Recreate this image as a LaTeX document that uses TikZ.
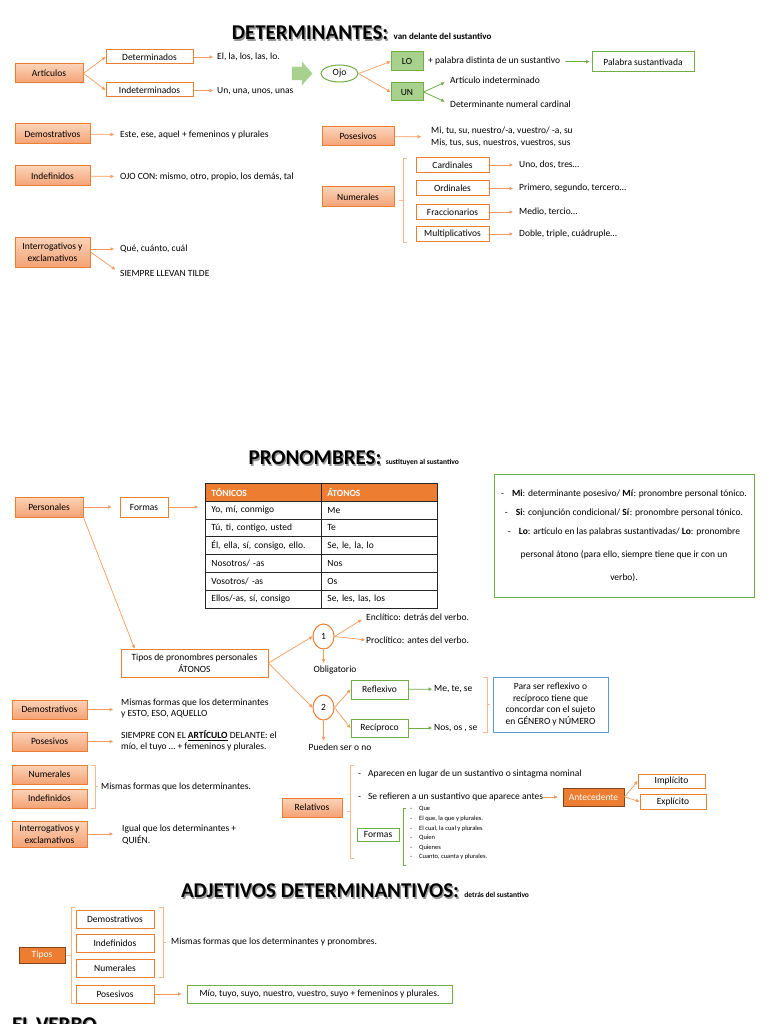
\documentclass[tikz,border=0pt]{standalone}
\usepackage{fontspec}
\setmainfont{Carlito}
\usetikzlibrary{arrows.meta,positioning,shapes.geometric,matrix}
\definecolor{naranja}{HTML}{ED7D31}
\definecolor{salmon}{HTML}{FAD3B8}
\definecolor{salmonosc}{HTML}{F4A275}
\definecolor{verde}{HTML}{70AD47}
\definecolor{verdeclaro}{HTML}{A9D18E}
\definecolor{azul}{HTML}{5B9BD5}
\definecolor{flecha}{HTML}{F59A5C}
\tikzset{>={Triangle[length=3.5pt,width=3.2pt]}}
\tikzset{
  every node/.style={font=\fontsize{9.5}{11.5}\selectfont},
  catbox/.style={draw=naranja, line width=1pt, top color=salmon, bottom color=salmonosc,
    minimum width=75, minimum height=20, inner sep=1pt, align=center},
  subbox/.style={draw=naranja, line width=1pt, fill=white, minimum width=87,
    minimum height=14, inner sep=1pt, align=center},
  grbox/.style={draw=verde, line width=1pt, fill=white, minimum height=19, inner sep=1pt, align=center},
  grfill/.style={grbox, fill=verdeclaro},
  darkbox/.style={draw=naranja!55!black, line width=0.8pt, fill=naranja, text=white, inner sep=1pt},
  txt/.style={anchor=west, inner sep=0pt, align=left},
  arr/.style={->, draw=flecha, line width=0.7pt},
  garr/.style={->, draw=verde, line width=0.8pt},
  brk/.style={draw=flecha!70!white, line width=0.6pt},
  titulo/.style={font=\fontsize{21}{24}\selectfont\bfseries, inner sep=0pt},
  sombra/.style={titulo, text=black!40},
  subtit/.style={font=\fontsize{9}{10}\selectfont\bfseries, inner sep=0pt, anchor=base west},
}

\begin{document}
\begin{tikzpicture}[x=1pt,y=-1pt]
        \useasboundingbox (0,0) rectangle (768,1024);
        \clip (0,0) rectangle (768,1024);
        \fill[white] (0,0) rectangle (768,1024);
        % DETERMINANTES
        \node[sombra] (detS) at (311.3,34.5) {DETERMINANTES:};
        \node[titulo] (detT) at (310,33) {DETERMINANTES:};
        \node[subtit] (detsub) at ([xshift=5pt]detT.base east) {van delante del sustantivo};
        \node[catbox, minimum width=68, minimum height=19] (art) at (49,73.5) {Artículos};
        \node[subbox] (detm) at (149.5,57) {Determinados};
        \node[subbox] (indet) at (149.5,90) {Indeterminados};
        \node[txt] (detmT) at (217,57) {El, la, los, las, lo.};
        \node[txt] (indetT) at (217,91) {Un, una, unos, unas};
        \draw[arr] (art.east) -- (detm.west);
        \draw[arr] (art.east) -- (indet.west);
        \draw[arr, shorten >=4pt] (detm) -- (detmT);
        \draw[arr, shorten >=4pt] (indet) -- (indetT);
        \draw[fill=verdeclaro, draw=verde!60!white] (292,67) -- (302,67) -- (302,62) -- (312,73.5)
          -- (302,85) -- (302,80) -- (292,80) -- cycle;
        \node[ellipse, draw=verde, line width=1pt, minimum width=37, minimum height=17, inner sep=0pt] (ojo) at (339.5,73.5) {Ojo};
        \node[grfill, minimum width=32] (lo) at (407,61.5) {LO};
        \node[grfill, minimum width=32, minimum height=18] (un) at (407,92) {UN};
        \draw[arr] (ojo.east) -- (lo.west);
        \draw[arr] (ojo.east) -- (un.west);
        \node[txt] (lopal) at (428,61) {+ palabra distinta de un sustantivo};
        \node[grbox, minimum width=102, minimum height=20] (sust) at (643,62) {Palabra sustantivada};
        \draw[garr, shorten <=5pt, shorten >=2pt] (lopal) -- (sust);
        \node[txt] (unart) at (450,80) {Artículo indeterminado};
        \node[txt] (uncard) at (450,104) {Determinante numeral cardinal};
        \draw[garr, shorten >=6pt] (un.east) -- (unart.west);
        \draw[garr, shorten >=6pt] (un.east) -- (uncard.west);

        \node[catbox] (dem) at (52.5,134) {Demostrativos};
        \node[txt] (demT) at (120,135) {Este, ese, aquel + femeninos y plurales};
        \draw[arr, shorten >=6pt] (dem) -- (demT);
        \node[catbox] (indef) at (52.5,176) {Indefinidos};
        \node[txt] (indefT) at (120,177) {OJO CON: mismo, otro, propio, los demás, tal};
        \draw[arr, shorten >=6pt] (indef) -- (indefT);
        \node[catbox, minimum height=30] (interr) at (52.5,252) {Interrogativos y\\exclamativos};
        \node[txt] (interrT) at (120,249) {Qué, cuánto, cuál};
        \node[txt] (tilde) at (120,273) {SIEMPRE LLEVAN TILDE};
        \draw[arr, shorten >=6pt] (interr.east |- interrT) -- (interrT);
        \draw[arr, shorten >=6pt] (interr.east) -- (tilde.west);

        \node[catbox, minimum width=72, minimum height=19] (pos) at (358,136.5) {Posesivos};
        \node[txt] (posT) at (431,137) {Mi, tu, su, nuestro/-a, vuestro/ -a, su\\Mis, tus, sus, nuestros, vuestros, sus};
        \draw[arr, shorten >=10pt] (pos) -- (posT);
        \node[catbox, minimum width=72] (num) at (358,197) {Numerales};
        \draw[brk] (407,158) -- (403,158) -- (403,242) -- (407,242) (403,200) -- (399,200);
        \foreach \i/\nom/\ej/\y in {1/Cardinales/{Uno, dos, tres…}/165, 2/Ordinales/{Primero, segundo, tercero…}/188.5,
            3/Fraccionarios/{Medio, tercio…}/212, 4/Multiplicativos/{Doble, triple, cuádruple…}/234}{
          \node[subbox, minimum width=73, minimum height=15] (num\i) at (452.5,\y) {\nom};
          \node[txt] (numT\i) at (519,\y) {\ej};
          \draw[arr, shorten >=6pt] (num\i) -- (numT\i);
        }

        % PRONOMBRES
        \node[sombra] (proS) at (316.3,459.5) {PRONOMBRES:};
        \node[titulo] (proT) at (315,458) {PRONOMBRES:};
        \node[subtit, font=\fontsize{7.5}{9}\selectfont\bfseries] (prosub) at ([xshift=4pt]proT.base east) {sustituyen al sustantivo};
        \node[catbox, minimum width=68] (pers) at (49,507) {Personales};
        \node[subbox, minimum width=48, minimum height=20] (formas) at (144,507) {Formas};
        \draw[arr, shorten >=8pt] (pers) -- (formas);
        \matrix (tabla) [matrix of nodes, anchor=north west, inner sep=0pt, outer sep=0pt,
          column sep=-0.8pt, row sep=-0.8pt,
          nodes={draw=black!85, line width=0.8pt, text width=104, inner xsep=6pt, inner ysep=0pt,
            minimum height=17.8, align=left, anchor=center},
          hdr/.style={fill=naranja, text=white, font=\fontsize{9.5}{11.5}\selectfont\bfseries}] at (205,483) {
          |[hdr]| TÓNICOS & |[hdr]| ÁTONOS \\
          Yo, mí, conmigo & Me \\
          Tú, ti, contigo, usted & Te \\
          Él, ella, sí, consigo, ello. & Se, le, la, lo \\
          Nosotros/ -as & Nos \\
          Vosotros/ -as & Os \\
          Ellos/-as, sí, consigo & Se, les, las, los \\
        };
        \draw[arr, shorten >=7pt] (formas) -- (tabla.west |- formas);
        \node[draw=verde, line width=1pt, minimum width=260, minimum height=123, align=center, inner sep=2pt] (nota) at (624,535.5)
          {-\hspace{8pt}\textbf{Mi}: determinante posesivo/ \textbf{Mí}: pronombre personal tónico.\\[7.5pt]
           -\hspace{8pt}\textbf{Si}: conjunción condicional/ \textbf{Sí}: pronombre personal tónico.\\[7.5pt]
           -\hspace{8pt}\textbf{Lo}: artículo en las palabras sustantivadas/ \textbf{Lo}: pronombre\\[11.5pt]
           personal átono (para ello, siempre tiene que ir con un\\[11.5pt]
           verbo).};

        \node[subbox, minimum width=147, minimum height=28] (tipos) at (194.5,663) {Tipos de pronombres personales\\ÁTONOS};
        \draw[arr] (pers.south east) -- ([xshift=14pt]tipos.north west);
        \node[ellipse, draw=naranja, line width=1pt, fill=white, minimum width=21, minimum height=25, inner sep=0pt] (uno) at (323.5,636.5) {1};
        \node[ellipse, draw=naranja, line width=1pt, fill=white, minimum width=21, minimum height=25, inner sep=0pt] (dos) at (323.5,707.5) {2};
        \draw[arr] (tipos.east) -- (uno.west);
        \draw[arr] (tipos.east) -- (dos.west);
        \node[txt] (encl) at (366,617) {Enclítico: detrás del verbo.};
        \node[txt] (procl) at (366,640) {Proclítico: antes del verbo.};
        \node[inner sep=0pt] (oblig) at (335,670) {Obligatorio};
        \draw[arr, shorten >=5pt] (uno.east) -- (encl.west);
        \draw[arr, shorten >=1pt] (uno.east) -- (procl.west);
        \draw[arr, shorten >=3pt] (uno.south) -- (uno.south |- oblig.north);
        \node[grbox, minimum width=57] (refl) at (379.5,689.5) {Reflexivo};
        \node[grbox, minimum width=57, minimum height=18] (reci) at (379.5,728) {Recíproco};
        \draw[arr] (dos.east) -- (refl.west);
        \draw[arr] (dos.east) -- (reci.west);
        \node[txt] (reflT) at (434,689) {Me, te, se};
        \node[txt] (reciT) at (434,728) {Nos, os , se};
        \draw[garr, shorten >=2pt] (refl) -- (reflT);
        \draw[garr, shorten >=2pt] (reci) -- (reciT);
        \node[inner sep=0pt] (pueden) at (340,747) {Pueden ser o no};
        \draw[arr, shorten >=3pt] (dos.south) -- (dos.south |- pueden.north);
        \draw[brk] (483,677) -- (487,677) -- (487,732) -- (483,732) (487,704.5) -- (490,704.5);
        \node[draw=azul, line width=1pt, minimum width=115, minimum height=55, align=center, inner sep=1pt] (concord) at (550.5,704.5)
          {Para ser reflexivo o\\recíproco tiene que\\concordar con el sujeto\\en GÉNERO y NÚMERO};

        \node[catbox, minimum height=19] (dem2) at (49.5,709.5) {Demostrativos};
        \node[txt] (dem2T) at (121,708.5) {Mismas formas que los determinantes\\y ESTO, ESO, AQUELLO};
        \draw[arr, shorten >=8pt] (dem2.east) -- (dem2T.west |- dem2.east);
        \node[catbox, minimum height=19] (pos2) at (49.5,741.5) {Posesivos};
        \node[txt] (pos2T) at (121,741) {SIEMPRE CON EL \underline{\textbf{ARTÍCULO}} DELANTE: el\\mío, el tuyo … + femeninos y plurales.};
        \draw[arr, shorten >=8pt] (pos2.east) -- (pos2T.west |- pos2.east);
        \node[catbox, minimum height=19] (num2) at (49.5,774.5) {Numerales};
        \node[catbox, minimum height=19] (indef2) at (49.5,798.5) {Indefinidos};
        \draw[brk] (91,765) -- (95,765) -- (95,808) -- (91,808) (95,786.5) -- (98,786.5);
        \node[txt] (mismas) at (101,787) {Mismas formas que los determinantes.};
        \node[catbox, minimum height=26] (interr2) at (49.5,834) {Interrogativos y\\exclamativos};
        \node[txt] (interr2T) at (122,835) {Igual que los determinantes +\\QUIÉN.};
        \draw[arr, shorten >=9pt] (interr2.east) -- (interr2T.west |- interr2.east);

        \node[catbox, minimum width=60, minimum height=19] (rel) at (312,807.5) {Relativos};
        \draw[brk] (354,765) -- (350,765) -- (350,858) -- (354,858) (350,811.5) -- (347,811.5);
        \node[txt] (rel1) at (358,774) {-\hspace{7pt}Aparecen en lugar de un sustantivo o sintagma nominal};
        \node[txt] (rel2) at (358,797) {-\hspace{7pt}Se refieren a un sustantivo que aparece antes};
        \node[darkbox, minimum width=61, minimum height=18] (ante) at (593.5,797) {Antecedente};
        \draw[arr, shorten >=5pt] (rel2) -- (ante);
        \node[subbox, minimum width=67] (impl) at (671.5,781) {Implícito};
        \node[subbox, minimum width=66, minimum height=15] (expl) at (673,801.5) {Explícito};
        \draw[arr] (ante.east) -- (impl.west);
        \draw[arr] (ante.east) -- (expl.west);
        \node[grbox, minimum width=42, minimum height=13] (formas2) at (378,834.5) {Formas};
        \draw[verde, line width=0.6pt] (406,808) -- (403,808) -- (403,865) -- (406,865);
        \node[txt, anchor=north west, font=\fontsize{6.5}{9.6}\selectfont] (lista) at (410,806.5)
          {-\hspace{7pt}Que\\-\hspace{7pt}El que, la que y plurales.\\-\hspace{7pt}El cual, la cual y plurales\\
           -\hspace{7pt}Quien\\-\hspace{7pt}Quienes\\-\hspace{7pt}Cuanto, cuanta y plurales.};

        % ADJETIVOS DETERMINANTIVOS
        \node[sombra] (adjS) at (321.3,892.5) {ADJETIVOS DETERMINANTIVOS:};
        \node[titulo] (adjT) at (320,891) {ADJETIVOS DETERMINANTIVOS:};
        \node[subtit, font=\fontsize{7.5}{9}\selectfont\bfseries] (adjsub) at ([xshift=5pt]adjT.base east) {detrás del sustantivo};
        \node[darkbox, minimum width=46, minimum height=16] (tipos2) at (42,955) {Tipos};
        \draw[brk] (75,907) -- (71,907) -- (71,1003) -- (75,1003) (71,955) -- (67,955);
        \foreach \i/\nom/\y in {1/Demostrativos/919.5, 2/Indefinidos/943, 3/Numerales/968, 4/Posesivos/994}
          \node[subbox, minimum width=78, minimum height=18] (adj\i) at (115,\y) {\nom};
        \draw[brk] (159,907) -- (163,907) -- (163,977) -- (159,977) (163,942) -- (166,942);
        \node[txt] (adjmismas) at (171,942) {Mismas formas que los determinantes y pronombres.};
        \node[grbox, minimum width=265, minimum height=18] (adjpos) at (319.5,994) {Mío, tuyo, suyo, nuestro, vuestro, suyo + femeninos y plurales.};
        \draw[arr, shorten >=5pt] (adj4) -- (adjpos);

        % EL VERBO
        \node[sombra, anchor=base west] (verboS) at (13.3,1032.5) {EL VERBO};
        \node[titulo, anchor=base west] (verbo) at (12,1031) {EL VERBO};
      \end{tikzpicture}
\end{document}
